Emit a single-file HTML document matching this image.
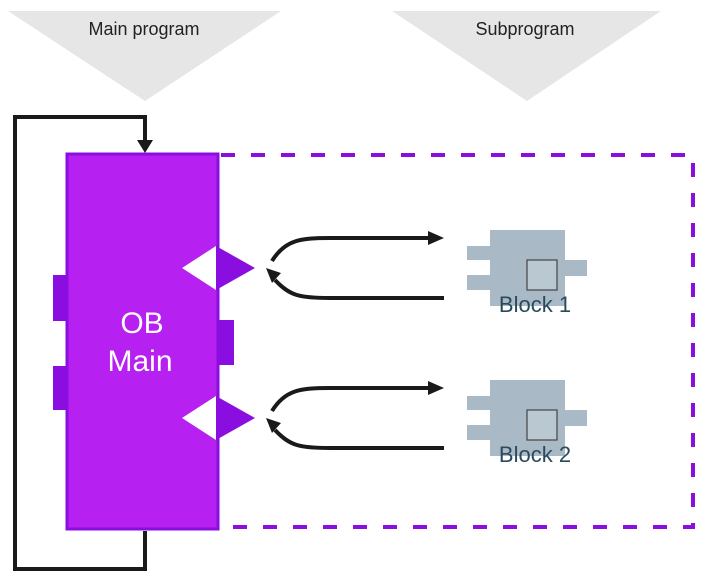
<!DOCTYPE html>
<html><head><meta charset="utf-8"><style>
html,body{margin:0;padding:0;background:#fff;width:708px;height:577px;overflow:hidden}
svg{display:block}
text{font-family:"Liberation Sans",sans-serif}
</style></head><body>
<svg width="708" height="577" viewBox="0 0 708 577">
<polygon points="8,11 281,11 145,101" fill="#e6e6e6"/>
<polygon points="392,11 661,11 527,101" fill="#e6e6e6"/>
<text x="144" y="35" font-size="18" fill="#222" text-anchor="middle">Main program</text>
<text x="525" y="35" font-size="18" fill="#222" text-anchor="middle">Subprogram</text>
<!-- loop -->
<polyline points="145,531 145,569 15,569 15,117 145,117 145,142" fill="none" stroke="#1a1a1a" stroke-width="4"/>
<polygon points="137,140 153,140 145,153" fill="#1a1a1a"/>
<!-- dashed (no left side) -->
<path d="M221,155 L693,155 L693,527 L221,527" fill="none" stroke="#8a0ee0" stroke-width="4" stroke-dasharray="14,16"/>
<!-- tabs -->
<rect x="53" y="275" width="15" height="46" fill="#8a0ee0"/>
<rect x="53" y="366" width="15" height="44" fill="#8a0ee0"/>
<rect x="218" y="320" width="16" height="45" fill="#8a0ee0"/>
<!-- OB -->
<rect x="67" y="154" width="151" height="375" fill="#b620f0" stroke="#8a0ee0" stroke-width="3"/>
<text x="142" y="333" font-size="30" fill="#fff" text-anchor="middle">OB</text>
<text x="140" y="371" font-size="30" fill="#fff" text-anchor="middle">Main</text>
<!-- triangles -->
<polygon points="182,268 216,246 216,290" fill="#fff"/>
<polygon points="216,246 255,268 216,290" fill="#8a0ee0"/>
<polygon points="182,418 216,396 216,440" fill="#fff"/>
<polygon points="216,396 255,418 216,440" fill="#8a0ee0"/>
<!-- arrows -->
<g fill="none" stroke="#1a1a1a" stroke-width="4">
<path d="M272,261 C285,240 300,238 330,238 L432,238"/>
<path d="M444,298 L330,298 C300,298 290,296 275,280"/>
<path d="M272,411 C285,390 300,388 330,388 L432,388"/>
<path d="M444,448 L330,448 C300,448 290,446 275,430"/>
</g>
<polygon points="428,231 444,238 428,245" fill="#1a1a1a"/>
<polygon points="428,381 444,388 428,395" fill="#1a1a1a"/>
<polygon points="266,268 272,283 281,273" fill="#1a1a1a"/>
<polygon points="266,418 272,433 281,423" fill="#1a1a1a"/>
<!-- blocks -->
<g fill="#a9bac6">
<rect x="490" y="230" width="75" height="76"/><rect x="467" y="246" width="24" height="14"/><rect x="467" y="275" width="24" height="15"/><rect x="564" y="260" width="23" height="16"/>
<rect x="490" y="380" width="75" height="76"/><rect x="467" y="396" width="24" height="14"/><rect x="467" y="425" width="24" height="15"/><rect x="564" y="410" width="23" height="16"/>
</g>
<rect x="527" y="260" width="30" height="30" fill="#bac8d2" stroke="#444" stroke-width="1.2"/>
<rect x="527" y="410" width="30" height="30" fill="#bac8d2" stroke="#444" stroke-width="1.2"/>
<text x="535" y="312" font-size="22" fill="#2a4a5e" text-anchor="middle">Block 1</text>
<text x="535" y="462" font-size="22" fill="#2a4a5e" text-anchor="middle">Block 2</text>
</svg>
</body></html>
